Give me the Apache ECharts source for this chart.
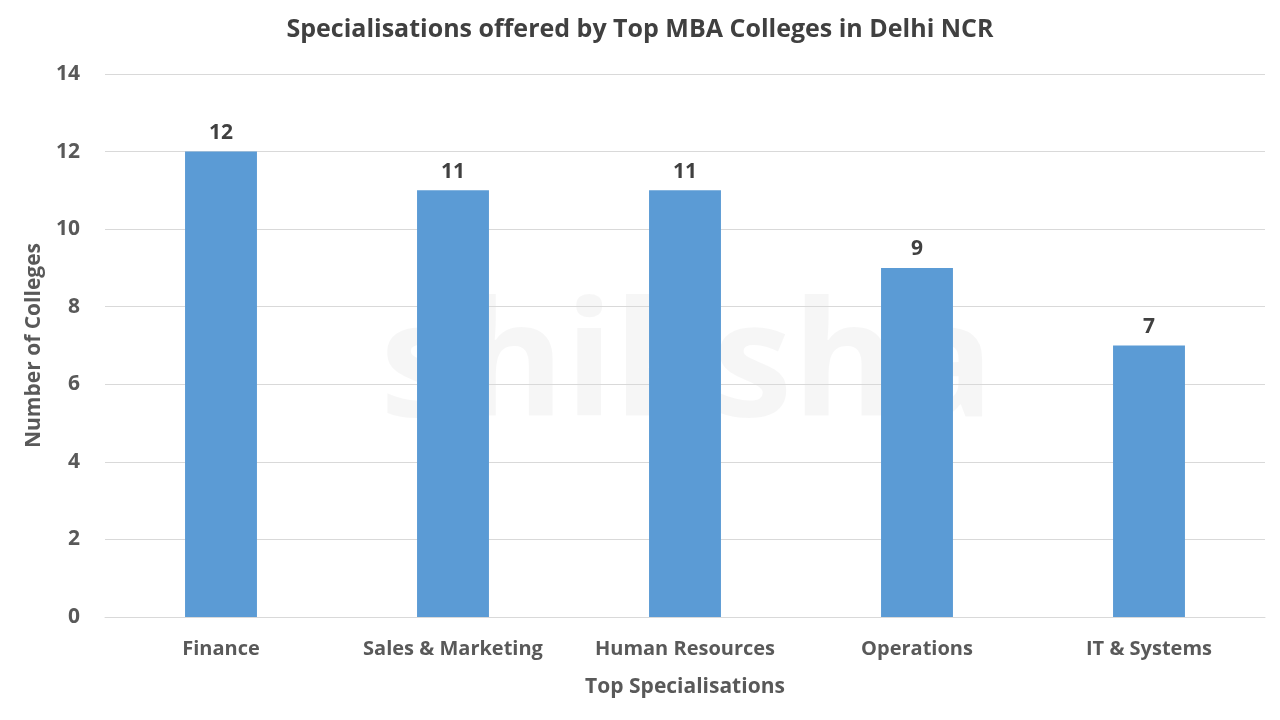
<!DOCTYPE html>
<html>
<head>
<meta charset="utf-8">
<script src="https://cdn.jsdelivr.net/npm/echarts@6/dist/echarts.min.js"></script>
<style>html,body{margin:0;padding:0;background:#fff}#chart{width:1280px;height:720px}</style>
</head>
<body>
<div id="chart"></div>
<script>
var categories = ['Finance', 'Sales & Marketing', 'Human Resources', 'Operations', 'IT & Systems'];
var colleges = [12, 11, 11, 9, 7];

var myChart = echarts.init(document.getElementById('chart'), null, { renderer: 'canvas' });
var font = 'Open Sans';

var option = {
  backgroundColor: '#fff',
  animation: false,
  title: {
    text: 'Specialisations offered by Top MBA Colleges in Delhi NCR',
    left: 'center',
    top: 12,
    textStyle: { fontFamily: font, fontSize: 25, fontWeight: 'bold', color: '#404040' }
  },
  graphic: [{
    type: 'text',
    left: 380,
    top: 290,
    z: -1,
    style: { text: 'shiksha', fontFamily: font, fontSize: 160, fontWeight: 'bold', fill: 'rgba(0,0,0,0.035)' }
  }],
  grid: { left: 105, right: 15, top: 74, bottom: 103 },
  xAxis: {
    type: 'category',
    data: categories,
    name: 'Top Specialisations',
    nameLocation: 'middle',
    nameGap: 60,
    nameTextStyle: { fontFamily: font, fontSize: 21, fontWeight: 'bold', color: '#595959' },
    axisTick: { show: false },
    axisLine: { lineStyle: { color: '#d9d9d9' } },
    axisLabel: { interval: 0, hideOverlap: false, fontFamily: font, fontSize: 20, fontWeight: 'bold', color: '#595959', margin: 22 }
  },
  yAxis: {
    type: 'value',
    min: 0,
    max: 14,
    interval: 2,
    name: 'Number of Colleges',
    nameLocation: 'middle',
    nameGap: 60,
    nameTextStyle: { fontFamily: font, fontSize: 21, fontWeight: 'bold', color: '#595959' },
    axisLabel: { fontFamily: font, fontSize: 21, fontWeight: 'bold', color: '#595959', margin: 25 },
    splitLine: { lineStyle: { color: '#d9d9d9' } }
  },
  series: [{
    type: 'bar',
    data: colleges,
    barWidth: '31%',
    itemStyle: { color: '#5b9bd5' },
    label: { show: true, position: 'top', distance: 8, fontFamily: font, fontSize: 21, fontWeight: 'bold', color: '#404040' }
  }]
};
myChart.setOption(option);
</script>
</body>
</html>
